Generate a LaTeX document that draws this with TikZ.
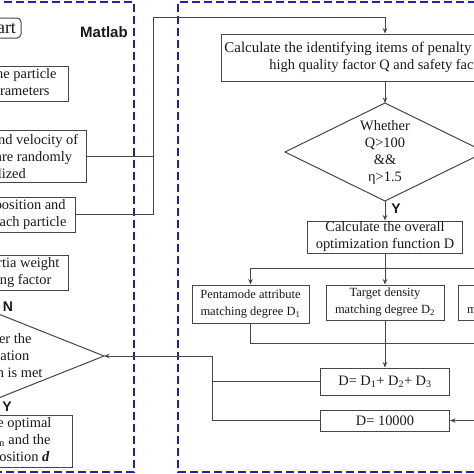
\documentclass[tikz,border=0pt]{standalone}
\usepackage{fontspec}
\setmainfont{Liberation Serif}
\newfontfamily\lsans{Liberation Sans}
\usetikzlibrary{arrows.meta}
\definecolor{dblue}{RGB}{35,35,165}
\definecolor{lgray}{RGB}{70,70,70}
\begin{document}
\begin{tikzpicture}[x=1pt,y=-1pt,
  box/.style={draw=lgray, line width=1pt, inner sep=0pt, align=center, text=black!90, font=\fontsize{14.4}{17}\selectfont},
  sbox/.style={box, font=\fontsize{12.5}{17}\selectfont},
  dtext/.style={inner sep=0pt, align=center, text=black!90, font=\fontsize{14.4}{17}\selectfont},
  conn/.style={draw=lgray, line width=0.9pt},
  arr/.style={conn, -{Stealth[length=5.5pt,width=4.5pt]}},
  lbl/.style={font=\lsans\bfseries\fontsize{14}{14}\selectfont, text=black!90, inner sep=0pt},
  frame/.style={draw=dblue, line width=2.2pt, dash pattern=on 8pt off 4pt}]
\useasboundingbox (0,0) rectangle (474,474);
\clip (0,0) rectangle (474,474);

% frames
\draw[frame] (-20,2) -- (134,2) -- (134,472) -- (-20,472);
\draw[frame] (500,2) -- (178,2) -- (178,472) -- (500,472);
\node[font=\lsans\bfseries\fontsize{15}{15}\selectfont, text=black!90, inner sep=0pt] (matlab) at (104,32) {Matlab};

% left column
\node[box, rounded corners=4pt, minimum width=44pt, minimum height=20pt, font=\fontsize{18}{18}\selectfont] (start) at (-1,28) {Start};
\node[box, minimum width=142pt, minimum height=35pt] (init) at (-3,83.5) {Initialize the particle\\swarm parameters};
\node[box, minimum width=178pt, minimum height=52pt] (rand) at (-3,156) {The position and velocity of\\the particles are randomly\\initialized};
\node[box, minimum width=156pt, minimum height=35pt] (upd) at (-3,214.5) {Update the position and\\velocity of each particle};
\node[box, minimum width=142pt, minimum height=35pt] (inert) at (-3,272.5) {Update inertia weight\\and learning factor};
\coordinate (ldt) at (-4,313);
\coordinate (ldr) at (104,356);
\coordinate (ldb) at (-4,399);
\coordinate (ldl) at (-112,356);
\draw[conn, line width=1pt] (ldt) -- (ldr) -- (ldb) -- (ldl) -- cycle;
\node[dtext] (ldtext) at (-4,356) {Whether the\\termination\\condition is met};
\node[lbl] (nlab) at (8,307) {N};
\node[lbl] (ylab) at (7,407) {Y};
\node[box, minimum width=150pt, minimum height=52pt] (out) at (-3,441) {Output the optimal\\value D\textsubscript{min} and the\\optimal position \textbf{\textit{d}}};

% right column
\node[box, minimum width=328pt, minimum height=47pt] (pen) at (385,57.5) {{\fontsize{14.9}{17}\selectfont Calculate the identifying items of penalty\rule{74pt}{0pt}}\\high quality factor Q and safety factor η};
\coordinate (rdt) at (385,103);
\coordinate (rdr) at (485,152);
\coordinate (rdb) at (385,201);
\coordinate (rdl) at (285,152);
\draw[conn, line width=1pt] (rdt) -- (rdr) -- (rdb) -- (rdl) -- cycle;
\node[dtext] (rdtext) at (385,153) {Whether\\Q>100\\\&\&\\η>1.5};
\node[lbl] (ylab2) at (396,209) {Y};
\node[box, minimum width=155pt, minimum height=32pt] (overall) at (385,237) {Calculate the overall\\optimization function D};
\node[sbox, minimum width=117pt, minimum height=38pt] (p1) at (250.5,304) {Pentamode attribute\\matching degree D\textsubscript{1}};
\node[sbox, minimum width=118pt, minimum height=35pt] (p2) at (385,302.5) {Target density\\matching degree D\textsubscript{2}};
\node[sbox, minimum width=118pt, minimum height=35pt] (p3) at (517,302.5) {Band gap\\matching degree D\textsubscript{3}};
\node[box, minimum width=129pt, minimum height=27pt] (dsum) at (385,381.5) {D= D\textsubscript{1}+ D\textsubscript{2}+ D\textsubscript{3}};
\node[box, minimum width=129pt, minimum height=21pt] (dbig) at (385,420.5) {D= 10000};

% connectors
\coordinate (jt) at (153,17);
\draw[arr] (upd.east) -| (jt) -| (pen.north);
\draw[conn] (rand.east) -- (rand.east -| jt);
\draw[arr] (pen.south) -- (rdt);
\draw[arr] (rdb) -- (overall.north);
\coordinate (busl) at (250.5,268);
\coordinate (busr) at (517,268);
\draw[conn] (busl) -- (busr);
\draw[arr] (overall.south) -- (p2.north);
\draw[arr] (busl) -- (p1.north);
\draw[arr] (busr) -- (p3.north);
\coordinate (bl) at (250.5,343);
\coordinate (br) at (517,343);
\draw[conn] (p1.south) -- (bl) -- (br) -- (p3.south);
\draw[arr] (p2.south) -- (dsum.north);
\coordinate (lj) at (212,356);
\draw[arr] (dsum.west) -| (lj) -- (ldr);
\draw[conn] (dbig.west) -| (lj);
\coordinate (rj) at (530,152);
\draw[arr] (rdr) -- (rj) |- (dbig.east);
\end{tikzpicture}
\end{document}
